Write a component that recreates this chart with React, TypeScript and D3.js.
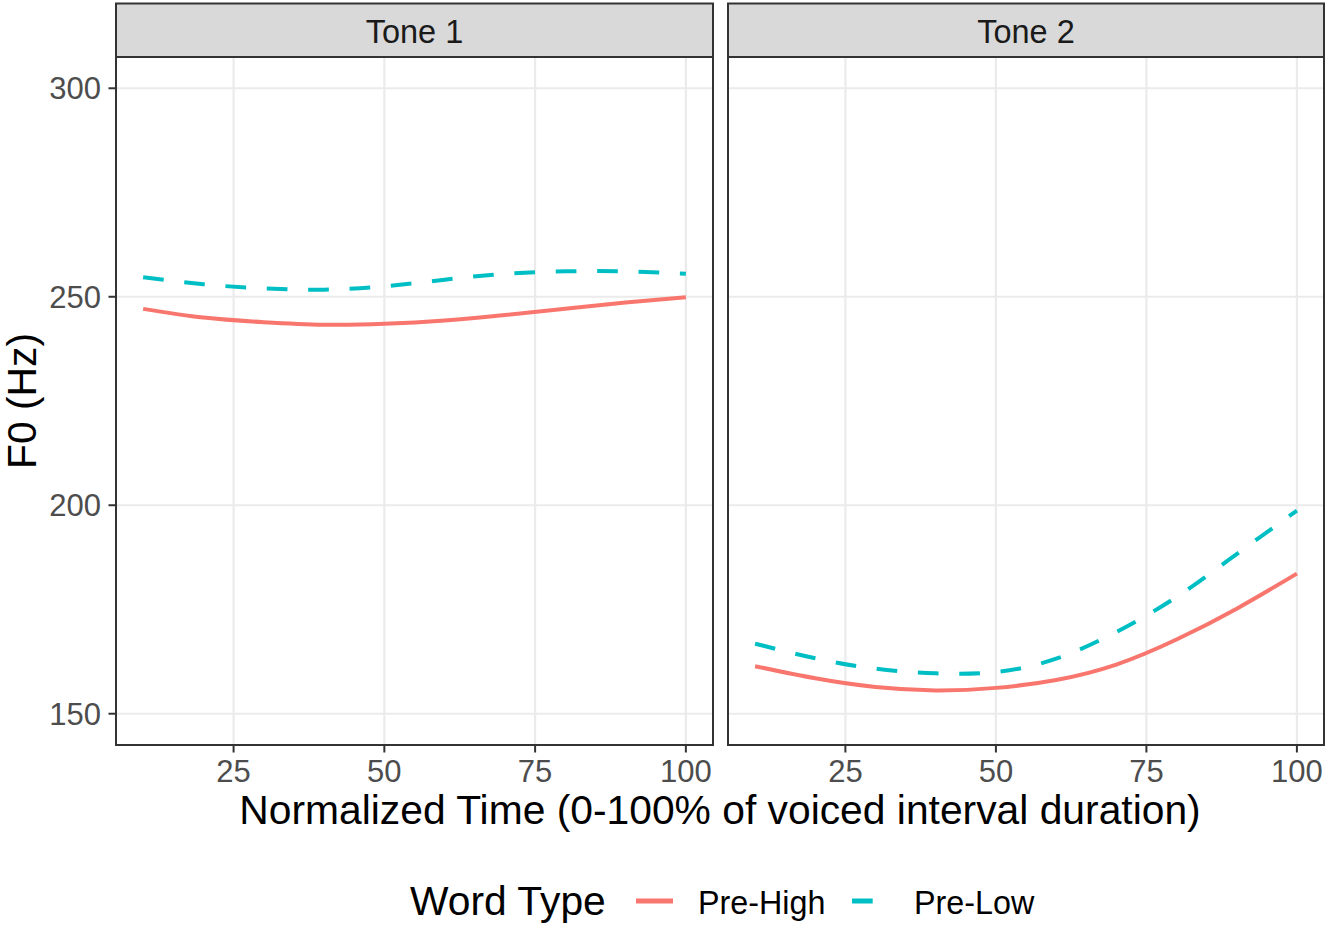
import React, { useEffect, useRef } from 'react';
import * as d3 from 'd3';

// normalized time points (0-100% of voiced interval)
const timePoints = [10, 20, 30, 40, 50, 60, 70, 80, 90, 100];
const tones = ['Tone 1', 'Tone 2'];
const wordTypes = ['Pre-High', 'Pre-Low'];

// F0 (Hz), per tone and word type
const tone1PreHigh = [247.1, 245.0, 243.9, 243.3, 243.5, 244.3, 245.6, 247.1, 248.6, 249.9];
const tone1PreLow = [254.7, 253.0, 252.0, 251.7, 252.5, 254.1, 255.5, 256.1, 256.1, 255.5];
const tone2PreHigh = [161.4, 158.5, 156.4, 155.6, 156.2, 158.1, 161.8, 167.8, 175.2, 183.6];
const tone2PreLow = [166.8, 163.3, 160.8, 159.7, 160.0, 163.2, 169.6, 178.0, 188.3, 198.7];

const xTicks = [25, 50, 75, 100];
const yTicks = [150, 200, 250, 300];

const W = 1328;
const H = 928;
const FONT = '"Liberation Sans", Arial, sans-serif';

const App: React.FC = () => {
  const ref = useRef<SVGSVGElement>(null);

  useEffect(() => {
    if (!ref.current) return;
    const svg = d3.select(ref.current);
    svg.selectAll('*').remove();

    const series = [
      [tone1PreHigh, tone1PreLow],
      [tone2PreHigh, tone2PreLow],
    ];
    const colors = d3.scaleOrdinal<string, string>().domain(wordTypes).range(['#F8766D', '#00BFC4']);
    const dashes: Record<string, string | null> = { 'Pre-High': null, 'Pre-Low': '20.7 20.7' };

    const stripTop = 3.5;
    const top = 57;
    const bottom = 745;
    const panels = [
      { x0: 116, x1: 713 },
      { x0: 728, x1: 1324 },
    ];

    const y = d3.scaleLinear().domain([142.5, 307.5]).range([bottom, top]);

    svg.append('rect').attr('width', W).attr('height', H).attr('fill', 'white');

    panels.forEach((p, i) => {
      const x = d3.scaleLinear().domain([5.5, 104.5]).range([p.x0, p.x1]);
      const g = svg.append('g');

      // grid
      g.selectAll('line.gx')
        .data(xTicks)
        .enter().append('line')
        .attr('x1', d => x(d)).attr('x2', d => x(d))
        .attr('y1', top).attr('y2', bottom)
        .attr('stroke', '#EBEBEB').attr('stroke-width', 2.2);
      g.selectAll('line.gy')
        .data(yTicks)
        .enter().append('line')
        .attr('x1', p.x0).attr('x2', p.x1)
        .attr('y1', d => y(d)).attr('y2', d => y(d))
        .attr('stroke', '#EBEBEB').attr('stroke-width', 2.2);

      // curves
      const line = d3.line<number>()
        .x((_, j) => x(timePoints[j]))
        .y(d => y(d))
        .curve(d3.curveNatural);
      series[i].forEach((vals, k) => {
        const wt = wordTypes[k];
        g.append('path')
          .attr('d', line(vals))
          .attr('fill', 'none')
          .attr('stroke', colors(wt))
          .attr('stroke-width', 4)
          .attr('stroke-dasharray', dashes[wt])
          .attr('stroke-linecap', 'butt');
      });

      // border
      g.append('rect')
        .attr('x', p.x0).attr('y', top)
        .attr('width', p.x1 - p.x0).attr('height', bottom - top)
        .attr('fill', 'none').attr('stroke', '#333333').attr('stroke-width', 2);

      // strip
      g.append('rect')
        .attr('x', p.x0).attr('y', stripTop)
        .attr('width', p.x1 - p.x0).attr('height', top - stripTop)
        .attr('fill', '#D9D9D9').attr('stroke', '#333333').attr('stroke-width', 2);
      g.append('text')
        .attr('x', (p.x0 + p.x1) / 2).attr('y', 42.5)
        .attr('text-anchor', 'middle')
        .attr('font-family', FONT).attr('font-size', 32.5)
        .attr('fill', '#1A1A1A')
        .text(tones[i]);

      // x axis
      g.selectAll('line.tx')
        .data(xTicks)
        .enter().append('line')
        .attr('x1', d => x(d)).attr('x2', d => x(d))
        .attr('y1', bottom).attr('y2', bottom + 7.5)
        .attr('stroke', '#333333').attr('stroke-width', 2);
      g.selectAll('text.tx')
        .data(xTicks)
        .enter().append('text')
        .attr('x', d => x(d)).attr('y', 782)
        .attr('text-anchor', 'middle')
        .attr('font-family', FONT).attr('font-size', 31)
        .attr('fill', '#4D4D4D')
        .text(d => d);

      // y axis only on first panel
      if (i === 0) {
        g.selectAll('line.ty')
          .data(yTicks)
          .enter().append('line')
          .attr('x1', p.x0 - 7.5).attr('x2', p.x0)
          .attr('y1', d => y(d)).attr('y2', d => y(d))
          .attr('stroke', '#333333').attr('stroke-width', 2);
        g.selectAll('text.ty')
          .data(yTicks)
          .enter().append('text')
          .attr('x', 101).attr('y', d => y(d) + 11)
          .attr('text-anchor', 'end')
          .attr('font-family', FONT).attr('font-size', 31)
          .attr('fill', '#4D4D4D')
          .text(d => d);
      }
    });

    // axis titles
    svg.append('text')
      .attr('x', 720).attr('y', 824)
      .attr('text-anchor', 'middle')
      .attr('font-family', FONT).attr('font-size', 40.8)
      .attr('fill', 'black')
      .text('Normalized Time (0-100% of voiced interval duration)');
    svg.append('text')
      .attr('transform', `translate(36,${(top + bottom) / 2}) rotate(-90)`)
      .attr('text-anchor', 'middle')
      .attr('font-family', FONT).attr('font-size', 40.8)
      .attr('fill', 'black')
      .text('F0 (Hz)');

    // legend
    const lg = svg.append('g');
    lg.append('text')
      .attr('x', 410).attr('y', 915)
      .attr('font-family', FONT).attr('font-size', 40.8)
      .attr('fill', 'black')
      .text('Word Type');
    const keyX = [636, 852];
    wordTypes.forEach((wt, k) => {
      lg.append('line')
        .attr('x1', keyX[k]).attr('x2', keyX[k] + 37)
        .attr('y1', 901).attr('y2', 901)
        .attr('stroke', colors(wt))
        .attr('stroke-width', 5)
        .attr('stroke-dasharray', dashes[wt]);
      lg.append('text')
        .attr('x', keyX[k] + 62).attr('y', 914)
        .attr('font-family', FONT).attr('font-size', 32.3)
        .attr('fill', 'black')
        .text(wt);
    });
  }, []);

  return (
    <svg
      ref={ref}
      width={W}
      height={H}
      viewBox={`0 0 ${W} ${H}`}
      style={{ position: 'absolute', left: 0, top: 0 }}
    />
  );
};

export default App;
